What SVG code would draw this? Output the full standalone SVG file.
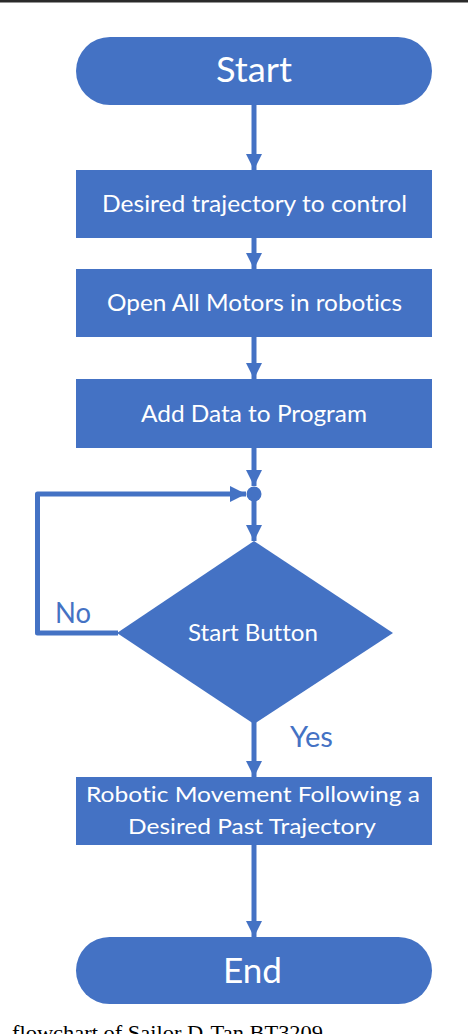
<svg xmlns="http://www.w3.org/2000/svg" width="468" height="1034" viewBox="0 0 468 1034">
  <style>
    .shape { fill: #4472C4; }
    .lbl { fill: #ffffff; font-family: Lato, "Open Sans", sans-serif; text-anchor: middle; font-variant-ligatures: none; font-feature-settings: "liga" 0, "clig" 0; }
    .blue { fill: #4472C4; font-family: Lato, "Open Sans", sans-serif; }
    .conn { stroke: #4472C4; stroke-width: 5; fill: none; }
  </style>
  <defs>
    <marker id="arr" markerUnits="userSpaceOnUse" markerWidth="16" markerHeight="17" refX="16" refY="8" orient="auto">
      <path d="M0,0 L16,8 L0,16 Z" fill="#4472C4"/>
    </marker>
  </defs>
  <rect x="0" y="0" width="468" height="1034" fill="#ffffff"/>
  <rect x="0" y="0" width="468" height="2.5" fill="#2a2a2a"/>

  <g id="connectors">
    <line class="conn" x1="254" y1="105" x2="254" y2="170" marker-end="url(#arr)"/>
    <line class="conn" x1="254" y1="238" x2="254" y2="269" marker-end="url(#arr)"/>
    <line class="conn" x1="254" y1="337" x2="254" y2="379" marker-end="url(#arr)"/>
    <line class="conn" x1="254" y1="448" x2="254" y2="486" marker-end="url(#arr)"/>
    <line class="conn" x1="254" y1="494" x2="254" y2="541" marker-end="url(#arr)"/>
    <path class="conn" d="M118,633 H37.5 V494 H246" stroke-linejoin="round" marker-end="url(#arr)"/>
    <line class="conn" x1="254" y1="722" x2="254" y2="777" marker-end="url(#arr)"/>
    <line class="conn" x1="254" y1="845" x2="254" y2="937" marker-end="url(#arr)"/>
    <circle cx="254" cy="494" r="7.5" fill="#4472C4"/>
  </g>

  <g id="start">
    <rect class="shape" x="76" y="37" width="356" height="68" rx="34"/>
    <text class="lbl" x="254" y="82" font-size="35" textLength="76" lengthAdjust="spacingAndGlyphs">Start</text>
  </g>
  <g id="box1">
    <rect class="shape" x="76" y="170" width="356" height="68"/>
    <text class="lbl" x="254.5" y="212" font-size="23.5" textLength="305" lengthAdjust="spacingAndGlyphs">Desired trajectory to control</text>
  </g>
  <g id="box2">
    <rect class="shape" x="76" y="269" width="356" height="68"/>
    <text class="lbl" x="254.5" y="311" font-size="23.5" textLength="295" lengthAdjust="spacingAndGlyphs">Open All Motors in robotics</text>
  </g>
  <g id="box3">
    <rect class="shape" x="76" y="379" width="356" height="69"/>
    <text class="lbl" x="254" y="422" font-size="23.5" textLength="226" lengthAdjust="spacingAndGlyphs">Add Data to Program</text>
  </g>
  <g id="decision">
    <polygon class="shape" points="254,541 393,633 254,724 117,633"/>
    <text class="lbl" x="253" y="641" font-size="23" textLength="130" lengthAdjust="spacingAndGlyphs">Start Button</text>
  </g>
  <g id="labels">
    <text class="blue" x="55" y="623" font-size="28" textLength="36" lengthAdjust="spacingAndGlyphs">No</text>
    <text class="blue" x="290" y="747" font-size="28" textLength="43" lengthAdjust="spacingAndGlyphs">Yes</text>
  </g>
  <g id="box4">
    <rect class="shape" x="76" y="777" width="356" height="68"/>
    <text class="lbl" x="253" y="802" font-size="21.5" textLength="334" lengthAdjust="spacingAndGlyphs">Robotic Movement Following a</text>
    <text class="lbl" x="252" y="834" font-size="21.5" textLength="248" lengthAdjust="spacingAndGlyphs">Desired Past Trajectory</text>
  </g>
  <g id="end">
    <rect class="shape" x="76" y="937" width="356" height="67" rx="33.5"/>
    <text class="lbl" x="252.5" y="983" font-size="35" textLength="59" lengthAdjust="spacingAndGlyphs">End</text>
  </g>
  <text x="12" y="1040" font-family="'Liberation Serif', serif" font-size="22" fill="#000000" textLength="311" lengthAdjust="spacingAndGlyphs">flowchart of Sailor D-Tan BT3209</text>
</svg>
